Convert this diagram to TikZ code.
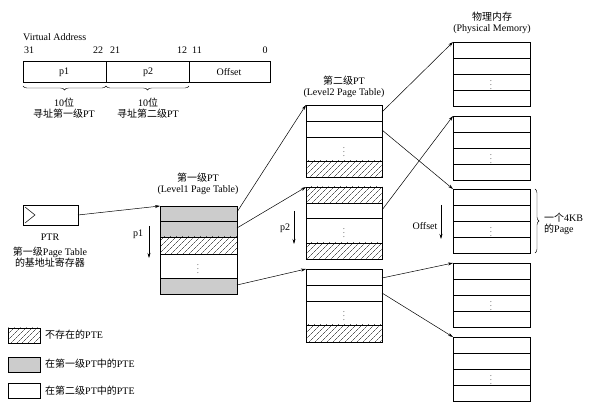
\documentclass[tikz,border=0pt]{standalone}
\usepackage{fontspec}
\setmainfont{Liberation Serif}
\newfontfamily\cjk{Noto Sans CJK SC}
\usetikzlibrary{patterns.meta,decorations.pathreplacing,arrows.meta}
\begin{document}
\begin{tikzpicture}[x=1pt,y=-1pt,
  every node/.style={font=\fontsize{10}{11}\selectfont, inner sep=0pt},
  cell/.style={draw, line width=0.6pt},
  hat/.style={cell, pattern={Lines[angle=45,distance=4pt,line width=0.4pt]}},
  gry/.style={cell, fill=gray!40},
  dts/.style={font=\fontsize{7}{7}\selectfont},
  conn/.style={-{Stealth[length=5pt,width=3pt]}, line width=0.5pt},
  brc/.style={decorate, decoration={brace, amplitude=4pt}, line width=0.4pt}]
\useasboundingbox (0,0) rectangle (600,411);
% Virtual address
\node[anchor=west] (va) at (23,37) {Virtual Address};
\node (b31) at (29,50) {31};
\node (b22) at (98,50) {22};
\node (b21) at (115,50) {21};
\node (b12) at (182,50) {12};
\node (b11) at (197,50) {11};
\node (b0) at (265,50) {0};
\draw[cell] (23,61) rectangle (106,82);
\draw[cell] (106,61) rectangle (189,82);
\draw[cell] (189,61) rectangle (270,82);
\node (vp1) at (64,72) {p1};
\node (vp2) at (148,72) {p2};
\node (voff) at (229,72) {Offset};
\draw[brc] (106,86) -- (23,86);
\draw[brc] (189,86) -- (106,86);
\node[align=center] (t1) at (64,108) {10{\cjk 位}\\{\cjk 寻址第一级}PT};
\node[align=center] (t2) at (148,108) {10{\cjk 位}\\{\cjk 寻址第二级}PT};
% PTR
\draw[cell] (23,205) rectangle (78,225);
\draw[line width=0.5pt] (25,207) -- (35,215) -- (25,223);
\node (ptr) at (50,237) {PTR};
\node[align=center] (ptrt) at (50,257) {{\cjk 第一级}Page Table\\{\cjk 的基地址寄存器}};
\coordinate (ptrR) at (78,215);
% L1
\node[align=center] (l1lab) at (198,184) {{\cjk 第一级}PT\\(Level1 Page Table)};
\draw[gry] (160,206) rectangle (237,221);
\draw[gry] (160,221) rectangle (237,237);
\draw[hat] (160,237) rectangle (237,254);
\draw[cell] (160,254) rectangle (237,278);
\draw[gry] (160,278) rectangle (237,294);
\node[dts] (l1d) at (198,266) {$\vdots$};
\coordinate (l1tl) at (160,206);
\coordinate (l1a) at (237,212);
\coordinate (l1b) at (237,228);
\coordinate (l1c) at (237,285);
\node (p1) at (138,234) {p1};
\draw[conn] (149,226) -- (149,258);
% L2
\node[align=center] (l2lab) at (344,87) {{\cjk 第二级}PT\\(Level2 Page Table)};
\draw[cell] (306,105) rectangle (382,121);
\draw[cell] (306,121) rectangle (382,137);
\draw[cell] (306,137) rectangle (382,161);
\draw[hat] (306,161) rectangle (382,177);
\node[dts] at (344,149) {$\vdots$};
\draw[hat] (306,187) rectangle (382,203);
\draw[cell] (306,203) rectangle (382,218);
\draw[cell] (306,218) rectangle (382,243);
\draw[hat] (306,243) rectangle (382,259);
\node[dts] at (344,230) {$\vdots$};
\draw[cell] (306,269) rectangle (382,285);
\draw[cell] (306,285) rectangle (382,301);
\draw[cell] (306,301) rectangle (382,325);
\draw[hat] (306,325) rectangle (382,342);
\node[dts] at (344,313) {$\vdots$};
\coordinate (l2A) at (306,105);
\coordinate (l2B) at (306,187);
\coordinate (l2C) at (306,269);
\coordinate (l2A1) at (382,112);
\coordinate (l2A2) at (382,130);
\coordinate (l2B2) at (382,210);
\coordinate (l2C1) at (382,278);
\coordinate (l2C2) at (382,293);
\node (p2) at (285,228) {p2};
\draw[conn] (294,211) -- (294,244);
% Physical memory
\node[align=center] (pmlab) at (492,23) {{\cjk 物理内存}\\(Physical Memory)};
\foreach \t/\n in {42/pg1,116/pg2,189/pg3,263/pg4,337/pg5}{
  \draw[cell] (453,\t) rectangle (530,\t+16);
  \draw[cell] (453,\t+16) rectangle (530,\t+32);
  \draw[cell] (453,\t+32) rectangle (530,\t+48);
  \draw[cell] (453,\t+48) rectangle (530,\t+64);
  \node[dts] at (491,\t+40) {$\vdots$};
  \coordinate (\n) at (453,\t);
}
\draw[brc] (535,189) -- (535,253);
\node[align=left, anchor=west] (kb) at (544,224) {{\cjk 一个}4KB\\{\cjk 的}Page};
\node (off) at (425,226) {Offset};
\draw[conn] (441,205) -- (441,239);
% connectors
\draw[conn] (ptrR) -- (l1tl);
\draw[conn] (l1a) -- (l2A);
\draw[conn] (l1b) -- (l2B);
\draw[conn] (l1c) -- (l2C);
\draw[conn] (l2A1) -- (pg1);
\draw[conn] (l2A2) -- (pg3);
\draw[conn] (l2B2) -- (pg2);
\draw[conn] (l2C1) -- (pg4);
\draw[conn] (l2C2) -- (pg5);
% legend
\draw[hat] (8,328) rectangle (40,343);
\draw[gry] (8,357) rectangle (40,372);
\draw[cell] (8,383) rectangle (40,398);
\node[anchor=west] (lg1) at (45,335) {{\cjk 不存在的}PTE};
\node[anchor=west] (lg2) at (45,364) {{\cjk 在第一级}PT{\cjk 中的}PTE};
\node[anchor=west] (lg3) at (45,391) {{\cjk 在第二级}PT{\cjk 中的}PTE};
\end{tikzpicture}
\end{document}
